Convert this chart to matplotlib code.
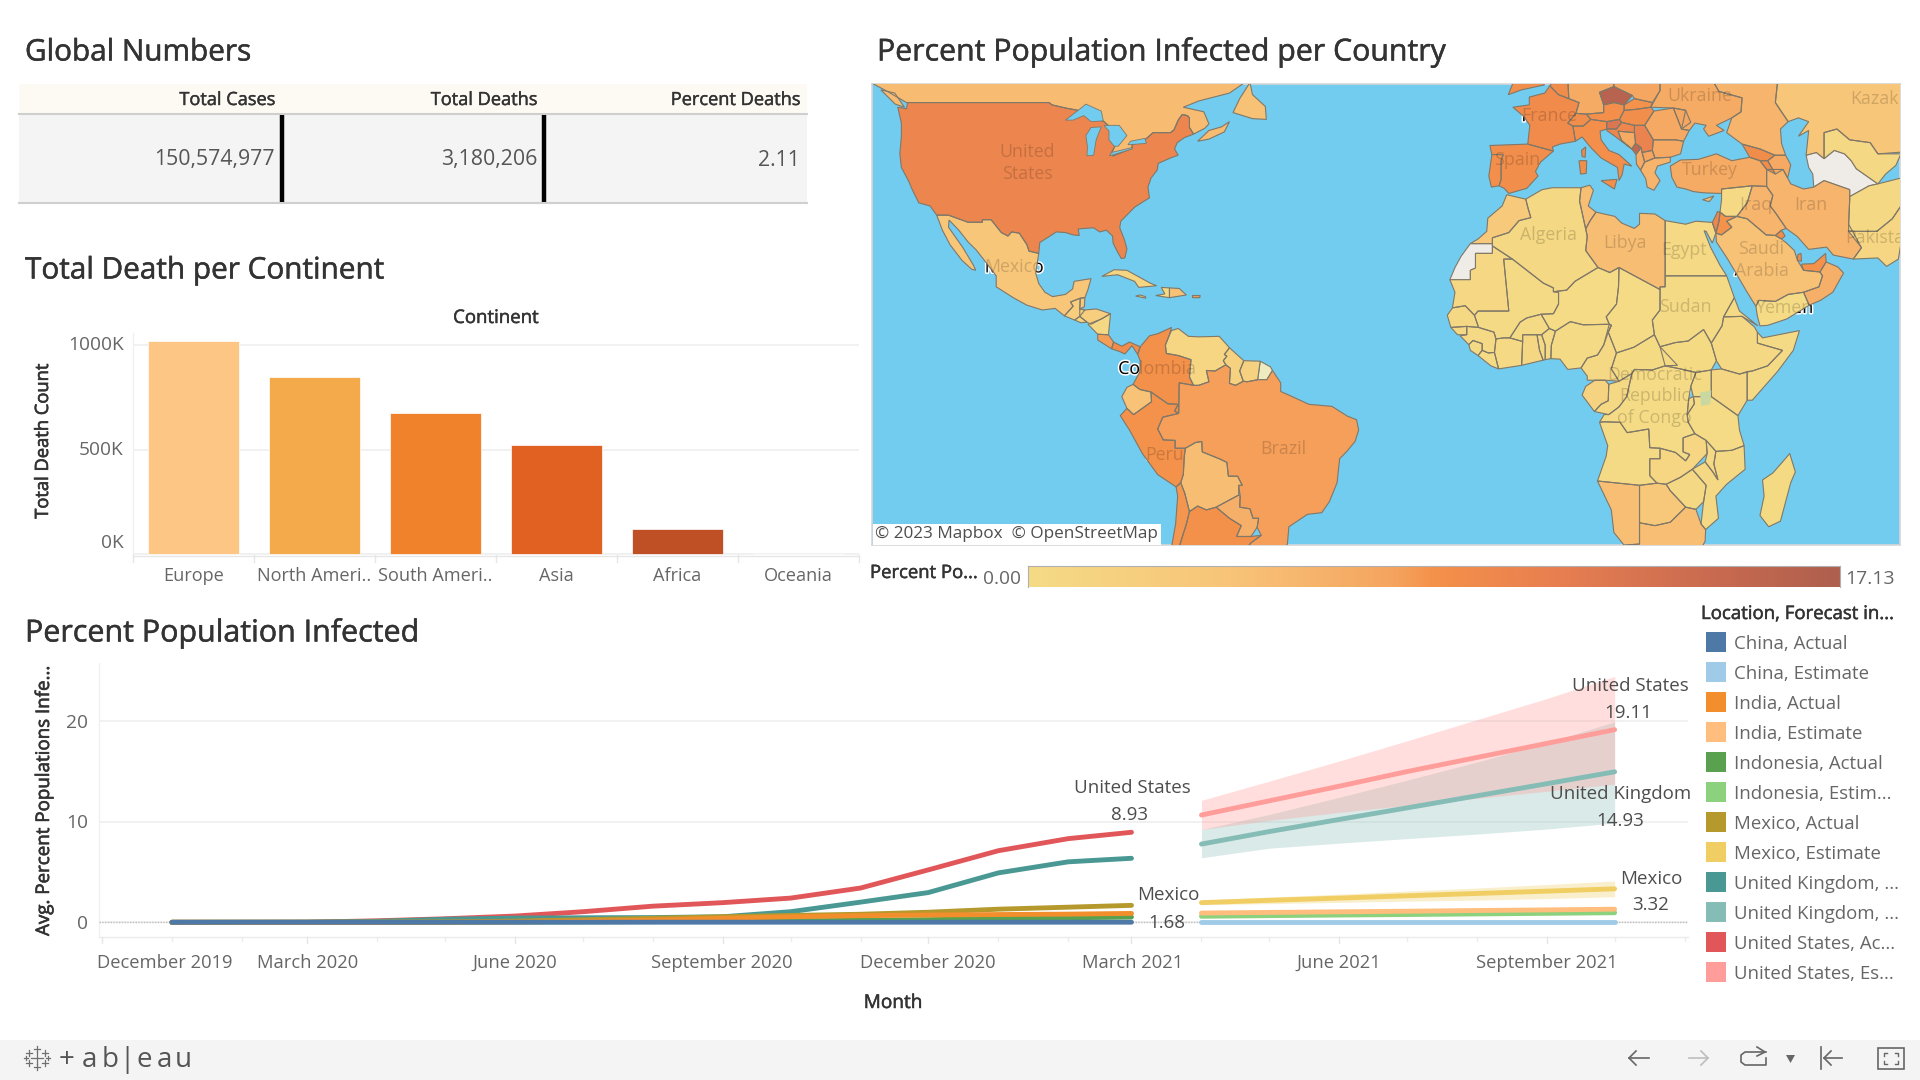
import numpy as np
import matplotlib
matplotlib.use("Agg")
import matplotlib.pyplot as plt
from matplotlib.colors import LinearSegmentedColormap, Normalize
from matplotlib.patches import Polygon, Rectangle
import matplotlib.patheffects as pe
import matplotlib.dates as mdates

plt.rcParams['font.family'] = ['Open Sans', 'DejaVu Sans']

W, H = 1920, 1080
# ---------------- table
table_headers = ["Total Cases", "Total Deaths", "Percent Deaths"]
table_values = ["150,574,977", "3,180,206", "2.11"]
# ---------------- bars
continents = ["Europe", "North Ameri..", "South Ameri..", "Asia", "Africa", "Oceania"]
death_counts = [1016750, 847942, 672415, 520269, 121784, 1046]
bar_colors = ["#FEC685", "#F4A94A", "#F0822C", "#E06122", "#BF4F24", "#9C3E1F"]
# ---------------- lines
months_actual = ["2020-01","2020-02","2020-03","2020-04","2020-05","2020-06","2020-07","2020-08",
                 "2020-09","2020-10","2020-11","2020-12","2021-01","2021-02","2021-03"]
months_est = ["2021-04","2021-05","2021-06","2021-07","2021-08","2021-09","2021-10"]
us_actual = [0,0,0.01,0.15,0.35,0.62,1.05,1.6,1.95,2.4,3.4,5.2,7.1,8.3,8.93]
uk_actual = [0,0,0.01,0.1,0.3,0.42,0.45,0.47,0.55,1.05,2.0,2.95,4.9,6.0,6.35]
mx_actual = [0,0,0,0.01,0.04,0.12,0.25,0.4,0.55,0.68,0.8,1.0,1.3,1.5,1.68]
in_actual = [0,0,0,0,0.01,0.04,0.1,0.22,0.4,0.55,0.66,0.72,0.77,0.81,0.88]
id_actual = [0,0,0,0,0.01,0.02,0.04,0.07,0.1,0.15,0.19,0.26,0.36,0.45,0.52]
cn_actual = [0,0.01,0.01,0.01,0.01,0.01,0.01,0.01,0.01,0.01,0.01,0.01,0.01,0.01,0.01]
us_est = [10.64,12.05,13.5,14.95,16.35,17.75,19.11]
uk_est = [7.76,9.0,10.2,11.35,12.55,13.75,14.93]
mx_est = [1.95,2.18,2.4,2.63,2.86,3.09,3.32]
in_est = [0.92,0.98,1.04,1.1,1.17,1.23,1.3]
id_est = [0.6,0.66,0.72,0.77,0.83,0.89,0.95]
cn_est = [0.01,0.01,0.01,0.01,0.01,0.01,0.01]
us_hi = [12.1,14.0,16.0,18.0,20.1,22.2,24.4]
us_lo = [9.2,10.1,10.9,11.6,12.3,13.0,13.7]
uk_hi = [9.2,10.7,12.4,14.1,15.9,17.8,19.9]
uk_lo = [6.4,7.35,7.85,8.3,8.75,9.25,9.85]
mx_hi = [2.2,2.5,2.8,3.1,3.4,3.75,4.1]
mx_lo = [1.75,1.85,1.97,2.1,2.2,2.35,2.54]
legend_labels = ["China, Actual","China, Estimate","India, Actual","India, Estimate","Indonesia, Actual",
                 "Indonesia, Estim...","Mexico, Actual","Mexico, Estimate","United Kingdom, ...",
                 "United Kingdom, ...","United States, Ac...","United States, Es..."]
legend_colors = ["#4E79A7","#A0CBE8","#F28E2B","#FFBE7D","#59A14F","#8CD17D","#B6992D","#F1CE63",
                 "#499894","#86BCB6","#E15759","#FF9D9A"]
# ---------------- map (lon, lat outlines)
USA=[(-124.7,48.4),(-123,48.2),(-122.8,49),(-95.2,49),(-94.6,48.7),(-92,48.3),(-89.6,48),(-84.5,46.5),(-82.5,45.3),(-82.4,43),(-83.1,42),(-82.7,41.7),(-79,42.8),(-79,43.3),(-76.5,44),(-74.9,45),(-71.5,45),(-70.8,45.4),(-70,46.7),(-69.2,47.45),(-68.2,47.3),(-67.8,47),(-67.8,45.7),(-67,44.8),(-68.8,44.3),(-70.2,43.6),(-70.7,42.7),(-70,41.8),(-71.5,41.4),(-73.9,40.6),(-74.1,39.6),(-75.3,38.4),(-75.9,37),(-75.6,35.3),(-77,34.6),(-78.5,33.8),(-79.9,32.6),(-81.2,31.5),(-81.4,30.4),(-80.5,28.4),(-80,26.8),(-80.4,25.2),(-81.1,25.1),(-81.8,26.2),(-82.7,27.8),(-82.8,29),(-84,30),(-85.3,29.7),(-86.5,30.4),(-88.2,30.3),(-89.5,30.2),(-89.3,29.1),(-90.5,29.2),(-92,29.6),(-93.8,29.7),(-95,29),(-97,27.9),(-97.2,26),(-99.1,26.4),(-99.5,27.5),(-101,29.5),(-102.5,29.7),(-103.2,29),(-104.5,29.6),(-106.5,31.75),(-108.2,31.75),(-108.2,31.33),(-111,31.33),(-114.8,32.5),(-117.1,32.5),(-118.4,34),(-120.6,34.5),(-122,36.8),(-122.5,37.8),(-124,40),(-124.3,42),(-124,44.5),(-124,46.3)]
CAN=[(-135,60),(-132,54),(-130,51.5),(-127,50.5),(-123,49),(-95.2,49),(-94.6,48.7),(-92,48.3),(-89.6,48),(-84.5,46.5),(-82.5,45.3),(-82.4,43),(-83.1,42),(-82.7,41.7),(-79,42.8),(-79,43.3),(-76.5,44),(-74.9,45),(-71.5,45),(-70.8,45.4),(-70,46.7),(-69.2,47.45),(-68.2,47.3),(-67.8,47),(-67.8,45.7),(-67,44.8),(-64.8,45.6),(-64,46.2),(-65,47.8),(-69,48.4),(-66,49.2),(-60,50.2),(-57,51.5),(-55,60)]
NSC=[(-66.2,43.8),(-64,45.3),(-61.5,45.8),(-60,46.5),(-61,45.1),(-64,44.1)]
NFL=[(-59.3,47.7),(-55.5,46.9),(-52.8,46.8),(-53,48.5),(-55.5,50),(-56,51.5),(-58,49.5)]
VAN=[(-128,50.6),(-125.3,50.2),(-123.4,48.4),(-125.2,48.8)]
MEX=[(-117.1,32.5),(-114.8,32.5),(-111,31.33),(-108.2,31.33),(-108.2,31.75),(-106.5,31.75),(-104.5,29.6),(-103.2,29),(-102.5,29.7),(-101,29.5),(-99.5,27.5),(-99.1,26.4),(-97.2,26),(-97.8,22.5),(-97.2,20.6),(-96,19),(-94.5,18.2),(-92,18.6),(-90.6,19.6),(-90.3,21),(-87,21.5),(-87.6,19.5),(-88.2,18),(-89.1,17.9),(-91,17.2),(-90.5,16.4),(-92.2,14.6),(-94,16),(-96.5,15.7),(-99.5,16.6),(-102,17.9),(-105.5,20),(-105.5,22),(-108,25),(-109.4,26.6),(-111,28),(-112.8,30),(-114.7,31.7),(-114.8,30.5),(-112,27),(-110,24),(-109.5,23),(-110.3,23.2),(-112.2,24.8),(-114.5,27.5),(-116,30)]
GTM=[(-92.2,14.6),(-90.5,16.4),(-91,17.2),(-89.1,17.9),(-89.2,15.9),(-88.2,15.7),(-89.2,14.5),(-90.2,13.8)]
BLZ=[(-89.1,17.9),(-88.2,18),(-88.3,16.3),(-89.2,15.9)]
HND=[(-89.2,15.9),(-88.2,15.7),(-86,15.9),(-83.2,15),(-85,14),(-87,13),(-87.8,13.4),(-89.2,14.5)]
SLV=[(-90.2,13.8),(-89.2,14.5),(-87.8,13.4),(-89,13.3)]
NIC=[(-87.6,13),(-85,14),(-83.2,15),(-83.6,11),(-85.7,11.1)]
CRI=[(-85.7,11.1),(-83.6,11),(-82.6,9.6),(-83,8.3),(-85.7,10)]
PAN=[(-83,8.3),(-82.6,9.6),(-81,8.8),(-79.5,9.6),(-77.4,8.7),(-77.9,7.2),(-79,8.9),(-80.4,7.3),(-81.5,7.8)]
CUB=[(-84.9,21.9),(-82.5,23.1),(-80,23),(-75.5,20.7),(-74.2,20.2),(-77.7,19.9),(-78.5,21),(-81.8,22.2)]
HTI=[(-74.4,18.4),(-71.7,18),(-71.7,19.8),(-73.3,19.9),(-72.6,18.7)]
DOM=[(-71.7,18),(-68.4,18.5),(-69.8,19.7),(-71.7,19.8)]
JAM=[(-78.3,18.3),(-76.3,17.9),(-76.4,18.2),(-77.5,18.5)]
PRI=[(-67.2,18.4),(-65.7,18.4),(-65.8,18),(-67.2,18)]
COL=[(-77.4,8.7),(-75.6,10.8),(-74,11.2),(-71.3,12.4),(-71.7,11),(-72.5,9),(-72.3,7.4),(-70,7),(-67.5,6.2),(-67.8,2.8),(-67,1.2),(-69.8,1.7),(-69.9,-4.2),(-70.7,-3.8),(-70,-2.5),(-72,-2.4),(-75.3,-0.1),(-77.5,0.4),(-78.8,1.4),(-77.5,3.8),(-77.4,6),(-77.9,7.2)]
VEN=[(-71.3,11.8),(-70,12.2),(-68,10.7),(-66,10.6),(-62,10.7),(-60.8,9.4),(-60,8.5),(-61,7.2),(-60.5,6.9),(-61.2,6),(-60.7,5.2),(-62.8,4),(-64.5,4.1),(-64,1.9),(-66,1.2),(-67,1.2),(-67.8,2.8),(-67.5,6.2),(-70,7),(-72.3,7.4),(-72.5,9),(-71.7,11)]
GUY=[(-60,8.5),(-57.2,6),(-58,4),(-57.3,2),(-58.8,1.2),(-60,1.6),(-59.8,4.5),(-60.7,5.2),(-61.2,6),(-60.5,6.9),(-61,7.2)]
SUR=[(-57.2,6),(-54,5.9),(-54.5,2.3),(-56.5,1.9),(-57.3,2),(-58,4)]
GUF=[(-54,5.9),(-52,4.8),(-51.6,4.1),(-52.7,2.3),(-54.5,2.3)]
BRA=[(-51.6,4.1),(-50,1.7),(-50,0),(-48.4,-0.7),(-44.5,-2.5),(-40,-2.9),(-37,-4.8),(-35.2,-5.5),(-34.8,-7.5),(-35.5,-9.7),(-37,-11.5),(-38.5,-13),(-39,-17.5),(-40.5,-21),(-42,-23),(-44.8,-23.3),(-48.4,-25.5),(-48.7,-28.5),(-50.5,-31),(-53.4,-33.7),(-53.5,-32.6),(-55.6,-31),(-57.6,-30.2),(-55.8,-28.3),(-53.8,-27),(-54.6,-25.6),(-54.3,-24),(-55.4,-24),(-56,-22.3),(-58,-22),(-57.9,-20),(-58.2,-18),(-57.5,-18),(-58.4,-16.3),(-60.2,-16.3),(-60.5,-13.7),(-62,-13),(-65.3,-11.7),(-65.4,-9.7),(-66.6,-9.9),(-68.6,-11),(-70.6,-11),(-70.6,-9.5),(-72.9,-9.4),(-74,-7.3),(-73,-5),(-70,-4.3),(-69.9,-4.2),(-69.8,1.7),(-67,1.2),(-66,1.2),(-64,1.9),(-64.5,4.1),(-62.8,4),(-60.7,5.2),(-59.8,4.5),(-60,1.6),(-58.8,1.2),(-57.3,2),(-56.5,1.9),(-54.5,2.3),(-52.7,2.3)]
ECU=[(-75.3,-0.1),(-77.5,0.4),(-78.8,1.4),(-80,0.8),(-81,-1),(-80,-3.3),(-78.7,-4.5),(-75.2,-2)]
PER=[(-75.3,-0.1),(-75.2,-2),(-78.7,-4.5),(-80,-3.3),(-81.3,-4.7),(-79.5,-7.5),(-77,-12),(-74,-16),(-70.4,-18.3),(-69.5,-17.5),(-69,-16),(-68.8,-12.5),(-68.6,-11),(-70.6,-11),(-70.6,-9.5),(-72.9,-9.4),(-74,-7.3),(-73,-5),(-70,-4.3),(-70.7,-3.8),(-70,-2.5),(-72,-2.4)]
BOL=[(-68.6,-11),(-66.6,-9.9),(-65.4,-9.7),(-65.3,-11.7),(-62,-13),(-60.5,-13.7),(-60.2,-16.3),(-58.4,-16.3),(-57.5,-18),(-58.2,-18),(-58.2,-19.8),(-62.6,-22),(-64.5,-22.5),(-66.2,-21.8),(-67.8,-22.8),(-68.7,-19.5),(-69.5,-17.5),(-69,-16),(-68.8,-12.5)]
PRY=[(-58.2,-19.8),(-57.9,-20),(-58,-22),(-56,-22.3),(-55.4,-24),(-54.3,-24),(-54.6,-25.6),(-55.8,-27.2),(-58.6,-27.2),(-57.7,-25.3),(-60,-24),(-62.6,-22)]
CHL=[(-70.4,-18.3),(-69.5,-17.5),(-68.7,-19.5),(-67.8,-22.8),(-68.4,-25),(-69.8,-29),(-70.2,-33),(-71.6,-33),(-71.5,-30),(-70.5,-25),(-70.1,-20)]
ARG=[(-66.2,-21.8),(-64.5,-22.5),(-62.6,-22),(-60,-24),(-57.7,-25.3),(-58.6,-27.2),(-55.8,-27.2),(-53.8,-27),(-55.8,-28.3),(-57.6,-30.2),(-58.2,-33),(-58.4,-34),(-70,-34),(-70.2,-33),(-69.8,-29),(-68.4,-25),(-67.8,-22.8)]
MAR=[(-5.9,35.8),(-2.2,35.1),(-1.7,33.5),(-1.2,32.1),(-3.5,31.6),(-5.5,29.6),(-8.7,28.7),(-8.7,27.7),(-13,27.7),(-11.5,28.5),(-9.8,29.8),(-9.6,32),(-6.8,34)]
ESH=[(-13,27.7),(-8.7,27.7),(-8.7,26),(-12,26),(-12,23.4),(-13,23),(-13,21.3),(-17,21.3),(-16,23.5),(-14.8,25.5)]
DZA=[(-2.2,35.1),(1,36.6),(3,36.9),(8.6,36.9),(8.3,34.8),(9.5,30.2),(9.8,29),(9.5,26.5),(11.9,23.5),(7.4,21),(5.8,19.4),(3.2,19.1),(3.2,19.8),(1.2,20.7),(-4.8,25),(-8.7,27.3),(-8.7,28.7),(-5.5,29.6),(-3.5,31.6),(-1.2,32.1),(-1.7,33.5)]
TUN=[(8.6,36.9),(10.3,37.3),(11,36.5),(10,34),(11.5,33),(10.3,31.5),(9.5,30.2),(8.3,34.8)]
LBY=[(11.5,33),(15.2,32.3),(16.5,31.2),(19,30.3),(20,31),(20,32.8),(23,32.7),(25,31.6),(25,29),(25,20),(24,20),(24,19.5),(16,23.5),(14.2,22.6),(11.9,23.5),(9.5,26.5),(9.8,29),(9.5,30.2),(10.3,31.5)]
EGY=[(25,31.6),(29,31),(31,31.5),(34.2,31.3),(34.9,29.5),(34.2,27.8),(33,29.8),(32.6,29.9),(33.9,27),(35.7,23.9),(37,22),(25,22)]
SDN=[(25,22),(37,22),(38.5,18),(36.4,14.4),(36.1,12.7),(34,9.4),(32.5,12),(29.5,9.8),(27,9.5),(24,8.7),(22.9,11),(22.5,13.8),(24,15.7),(24,19.5),(24,20),(25,20)]
SSD=[(24,8.7),(27,9.5),(29.5,9.8),(32.5,12),(34,9.4),(35,6),(34,4.2),(31,3.7),(28,4.4),(25,5)]
ERI=[(38.5,18),(39.5,15.5),(43.1,12.7),(40,14.5),(36.4,14.4)]
ETH=[(36.4,14.4),(40,14.5),(42.4,12.5),(43,11.5),(43,9.4),(47.9,8),(45,5),(42,4),(39.5,3.4),(36,4.4),(35,6),(34,9.4),(36.1,12.7)]
SOM=[(43,11.5),(44,10.4),(51.2,11.8),(50,8),(47,4),(42,-1.7),(41,-1.7),(41,3.9),(42,4),(45,5),(47.9,8),(43,9.4)]
KEN=[(34,4.2),(36,4.4),(39.5,3.4),(41,3.9),(41,-1.7),(39.2,-4.7),(34,-1),(34,1.3)]
UGA=[(31,3.7),(34,4.2),(34,1.3),(34,-1),(30.5,-1),(30,1)]
TZA=[(30.5,-1),(34,-1),(39.2,-4.7),(39.5,-7.5),(40.4,-10.5),(38,-11.4),(34.9,-11.6),(33,-9.5),(30.8,-8.2),(29.5,-6),(29.3,-4.5),(30.7,-2.4)]
RWA=[(29.6,-1.4),(30.5,-1),(30.7,-2.4),(29.3,-4.5)]
COD=[(12.2,-6),(13.1,-4.5),(14,-4.5),(16,-3),(17.5,-1),(18.5,3.5),(19,4.3),(22.5,4.2),(25,5),(28,4.4),(31,3.7),(30,1),(29.6,-1.4),(29.3,-4.5),(29.5,-6),(30.8,-8.2),(28.5,-9),(28.5,-11.7),(29.8,-12.2),(29,-13.4),(27,-11.8),(24,-11),(22,-10.9),(21.8,-7.3),(17.6,-8),(16.2,-6),(13,-5.9)]
COG=[(11.2,-3.9),(14,-4.5),(16,-3),(17.5,-1),(18.5,3.5),(16,2),(14,1.4),(13.9,-1.8),(12.5,-2.5)]
GAB=[(9.5,1),(11.3,2.2),(13.3,2.2),(14,1.4),(13.9,-1.8),(12.5,-2.5),(11.2,-3.9),(8.8,-0.7)]
CMR=[(8.6,4.6),(9.8,3),(9.8,2.2),(11.3,2.2),(13.3,2.2),(16,2),(14.5,4.4),(15.5,7.5),(13.9,11.5),(14.5,12.8),(14.1,13),(13,9),(11.8,7.1),(9.8,6.5)]
CAF=[(14.5,4.4),(16,2),(18.5,3.5),(19,4.3),(22.5,4.2),(25,5),(27.4,5.1),(24,8.7),(22.9,11),(18.9,8.6),(15.5,7.5)]
TCD=[(14.1,13),(13.5,14.4),(15.5,16.8),(15.9,20),(16,23.5),(24,19.5),(24,15.7),(22.5,13.8),(22.9,11),(18.9,8.6),(15.5,7.5),(13.9,11.5),(14.5,12.8)]
NER=[(5.8,19.4),(7.4,21),(11.9,23.5),(14.2,22.6),(16,23.5),(15.9,20),(15.5,16.8),(13.5,14.4),(14.1,13),(9,12.9),(6.5,13.5),(3.6,11.7),(2.4,12.2),(0.8,14.9),(3.2,15),(4.2,16.8),(4.2,19),(3.2,19.1)]
MLI=[(-4.8,25),(1.2,20.7),(3.2,19.8),(3.2,19.1),(4.2,19),(4.2,16.8),(3.2,15),(0.8,14.9),(-2,14.2),(-3.3,13.4),(-5.3,10.4),(-6.5,10.4),(-8,10.2),(-8.4,11.5),(-11.4,12.4),(-12.2,14.7),(-11.5,15.5),(-9.3,15.5),(-5.5,15.5),(-6.5,25)]
MRT=[(-17,21.3),(-13,21.3),(-13,23),(-12,23.4),(-12,26),(-8.7,26),(-8.7,27.3),(-4.8,25),(-6.5,25),(-5.5,15.5),(-9.3,15.5),(-11.5,15.5),(-12.2,14.7),(-14,16.5),(-16.5,16.1),(-16,19)]
SEN=[(-16.5,16.1),(-14,16.5),(-12.2,14.7),(-11.4,12.4),(-13.7,12.6),(-16.8,12.4),(-17.5,14.7)]
GNB=[(-16.8,12.4),(-13.7,12.6),(-13.7,11),(-15.5,11)]
GIN=[(-13.7,12.6),(-11.4,12.4),(-8.4,11.5),(-8,10.2),(-8.3,7.6),(-9.5,7.5),(-10.7,8),(-10.7,9.3),(-12.5,9.9),(-13.3,9.1),(-15,10.8),(-13.7,11)]
SLE=[(-13.3,9.1),(-12.5,9.9),(-10.7,9.3),(-10.7,8),(-11.5,7),(-13,8)]
LBR=[(-11.5,7),(-10.7,8),(-9.5,7.5),(-8.3,7.6),(-7.5,4.4),(-9,5)]
CIV=[(-7.5,4.4),(-8.3,7.6),(-8,10.2),(-6.5,10.4),(-5.3,10.4),(-2.8,9.7),(-3,5.1)]
GHA=[(-3,5.1),(-2.8,9.7),(-2.8,11),(0,11),(0.5,8),(1.2,6.1)]
BFA=[(-5.3,10.4),(-3.3,13.4),(-2,14.2),(0.8,14.9),(2.4,12.2),(0.9,11),(-2.8,11),(-2.8,9.7)]
TGO=[(0,11),(0.9,11),(1.6,9),(1.6,6.2),(1.2,6.1),(0.5,8)]
BEN=[(0.9,11),(2.4,12.2),(3.6,11.7),(2.8,9),(2.7,6.4),(1.6,6.2),(1.6,9)]
NGA=[(2.7,6.4),(2.8,9),(3.6,11.7),(6.5,13.5),(9,12.9),(14.1,13),(14.5,12.8),(13.9,11.5),(13,9),(11.8,7.1),(9.8,6.5),(8.6,4.6),(6,4.3),(4.5,6.3)]
AGO=[(12.2,-6),(13,-5.9),(16.2,-6),(17.6,-8),(21.8,-7.3),(22,-10.9),(24,-11),(24,-13),(22,-13),(22,-16.2),(23.4,-17.6),(20,-18),(13.9,-17.4),(11.8,-17.2),(13.5,-12.5),(13.8,-10.5),(12.9,-8)]
ZMB=[(22,-13),(24,-13),(24,-11),(27,-11.8),(29,-13.4),(29.8,-12.2),(28.5,-11.7),(28.5,-9),(30.8,-8.2),(33,-9.5),(33.2,-12),(30.3,-15),(28,-16.5),(25.2,-17.8),(23.4,-17.6),(22,-16.2)]
MWI=[(33,-9.5),(34.9,-11.6),(34.5,-14),(35.3,-17),(34.3,-15.5),(32.8,-13.6),(33.2,-12)]
MOZ=[(40.4,-10.5),(40.6,-15),(37,-17.8),(34.9,-20),(35.4,-24),(32.9,-26),(32,-25),(32.5,-21),(33,-18),(30.3,-15),(32.8,-13.6),(34.3,-15.5),(35.3,-17),(34.5,-14),(34.9,-11.6),(38,-11.4)]
ZWE=[(25.2,-17.8),(28,-16.5),(30.3,-15),(33,-18),(32.5,-21),(31,-22.4),(29,-22),(26,-19)]
BWA=[(20,-18),(23.4,-17.6),(25.2,-17.8),(26,-19),(29,-22),(26,-24.7),(23,-25.3),(20,-24.8),(20,-22)]
NAM=[(11.8,-17.2),(13.9,-17.4),(20,-18),(20,-22),(20,-28.5),(17,-28.7),(15,-26.5),(14.5,-22.5)]
ZAF=[(17,-28.7),(20,-28.5),(20,-24.8),(23,-25.3),(26,-24.7),(29,-22),(31,-22.4),(32,-25),(32.9,-26),(32.8,-28),(31,-31),(18,-31)]
MDG=[(49.3,-12),(50.4,-15.5),(49.5,-17.5),(47.5,-24.5),(45.2,-25.5),(43.5,-23.5),(44.3,-20),(44,-17),(46,-15.7),(48,-13.5)]
ISR=[(34.2,31.3),(34.9,32.5),(35.2,33.1),(35.7,33),(35.5,31.5),(34.9,29.5)]
JOR=[(35.5,31.5),(35.7,33),(36.8,32.3),(39,32.3),(37,31.5),(38,30.5),(36,29.2),(34.9,29.5)]
SYR=[(35.7,33),(36,35),(36,36.7),(42,37.2),(41,34.5),(39,32.3),(36.8,32.3)]
IRQ=[(39,32.3),(41,34.5),(42,37.2),(44.8,37.1),(46,35.7),(45.5,34),(46.6,32.8),(48.6,30.3),(47.7,30),(46.5,29.1),(44.7,29.2),(41,31.9)]
SAU=[(34.9,29.5),(36,29.2),(38,30.5),(37,31.5),(39,32.3),(41,31.9),(44.7,29.2),(46.5,29.1),(47.7,28.5),(48.8,27.7),(50.2,26.5),(50.8,24.8),(52,23),(55.2,22.7),(55.7,22),(55,20),(52,19),(49,18.6),(46.5,17.3),(43.3,17.5),(42.7,16.4),(41,19),(38.5,23),(37.2,25),(35,28)]
YEM=[(43.3,17.5),(46.5,17.3),(49,18.6),(52,19),(53.1,16.6),(48.7,14),(45,12.8),(43.5,12.7),(43,14.5),(42.7,16.4)]
OMN=[(52,19),(55,20),(55.7,22),(55.2,22.7),(56.4,24.5),(58.7,23.6),(59.8,22.5),(57.7,19),(55.3,17.5),(53.1,16.6)]
ARE=[(51.6,24.1),(52,23),(55.2,22.7),(56.4,24.5),(56.3,26),(54,24.2)]
KWT=[(46.5,29.1),(47.7,30),(48.4,29),(47.7,28.5)]
QAT=[(50.8,24.8),(51.6,24.6),(51.5,26),(50.9,25.8)]
IRN=[(44.8,39.7),(48,39.7),(48.9,38.4),(49.5,37.5),(52,36.7),(54,37),(56,38),(61,36.6),(61,35),(60.8,31),(63.3,27),(61.7,25),(57.8,25.7),(56.5,27.1),(53,26.7),(50.8,28.9),(48.6,30.3),(46.6,32.8),(45.5,34),(46,35.7),(44.8,37.1)]
TUR=[(26,40.2),(28,41.1),(31.5,41.2),(35,42),(38,41),(41.5,41.5),(43.5,41),(44.8,39.7),(44.8,37.1),(42,37.2),(36,36.7),(36,36),(32.5,36.1),(30.5,36.3),(29,36.7),(27.3,37),(26.3,38.5)]
GEO=[(40,43.4),(43.5,42.7),(46.4,41.8),(45,41),(43.5,41),(41.5,41.5)]
AZE=[(46.4,41.8),(48.5,41.8),(49.5,40.4),(48.9,38.4),(48,39.7),(46.5,39),(45,41)]
ARM=[(43.5,41),(45,41),(46.5,39),(44.8,39.7)]
TKM=[(52.5,41.8),(54.5,42.2),(56,41.3),(58,42.5),(60,42),(61.3,41),(62.3,39.8),(66.5,37.5),(64.8,37.2),(61,35.5),(61,36.6),(56,38),(54,37),(53.8,39),(53,40)]
UZB=[(56,45),(58.5,45.5),(61,44),(65,43.6),(66.5,42),(71,42),(70,40.3),(68,39),(66.5,37.5),(62.3,39.8),(61.3,41),(60,42),(58,42.5),(56,41.3)]
KAZ=[(46.5,49),(47,52),(72,52),(72,42.3),(66.5,42),(65,43.6),(61,44),(58.5,45.5),(56,45),(56,41.3),(54.5,42.2),(52.5,41.8),(53,45.3),(51,44.5),(53,46.5),(51,47),(49,46.5),(47.5,48)]
AFG=[(61,35.5),(64.8,37.2),(66.5,37.5),(71,38.4),(71.6,36.3),(71,34),(69.3,31.9),(66.3,29.8),(60.8,29.8),(60.8,31),(61,35)]
PAK=[(60.8,29.8),(66.3,29.8),(69.3,31.9),(71,34),(71.6,36.3),(75,37),(77,35.5),(75,32),(71,27.8),(70.5,25),(68.2,23.7),(66.5,25.2),(61.7,25),(63.3,27)]
RUS=[(40,43.4),(37,45),(38,47),(39.8,47.8),(40,49.6),(35.5,50.4),(34,52),(47,52),(46.5,49),(47.5,48),(49,46.5),(47.5,45.5),(47.7,43.5),(48.5,41.8),(46.4,41.8),(43.5,42.7)]
UKR=[(22.2,48.4),(24,50.5),(24,52),(34,52),(35.5,50.4),(40,49.6),(39.8,47.8),(38,47),(35,46),(36.5,45.3),(33.5,44.5),(32.5,45.5),(33,46),(30.8,46.3),(29.7,45.3),(28.2,45.5),(29,48),(26.6,48.3)]
ROU=[(22.8,47.9),(26.6,48.3),(28.2,45.5),(29.7,45.3),(28.6,43.8),(27,44),(22.7,44),(21,46)]
MDA=[(26.6,48.3),(29,48),(30,46.4),(28.2,45.5)]
BGR=[(22.7,44),(27,44),(28.6,43.8),(28,42),(26,41.5),(23,41.4),(22.5,42.5)]
GRC=[(20.2,39.6),(21,40.8),(23,41.4),(26,41.5),(26,40.8),(23.5,40.2),(23,39.2),(24,38),(22.8,36.5),(21.5,37),(21.2,38.3)]
SRB=[(19,46),(21,46),(22.7,44),(22.5,42.5),(20.5,42.2),(20.3,42.9),(19.2,43.5),(19.2,43.8),(19,45)]
BIH=[(15.8,45.2),(19,45),(19.2,43.8),(19.2,43.5),(18.5,42.7),(16.5,43.9)]
MNE=[(18.5,42.7),(19.2,43.5),(20.3,42.9),(19.3,41.9)]
ALB=[(19.3,41.9),(20.3,42.9),(20.5,42.2),(21,40.8),(20.2,39.6),(19.4,40.5)]
MKD=[(20.5,42.2),(22.5,42.5),(23,41.4),(21,40.8)]
HRV=[(13.6,45.3),(13.6,45.5),(15.5,45.5),(16.5,46.4),(19,46),(19,45),(15.8,45.2),(16.5,43.9),(18.5,42.7),(15,44.6)]
SVN=[(13.6,45.5),(13.6,46.5),(16.1,46.8),(16.5,46.4),(15.5,45.5)]
HUN=[(16.1,46.8),(17,48),(19,48.1),(22.2,48.4),(22.8,47.9),(21,46),(19,46),(16.5,46.4)]
AUT=[(9.6,47.5),(13,47.7),(13,48.7),(15,49),(17,48.7),(17,48),(16.1,46.8),(13.6,46.5),(10.5,46.8)]
SVK=[(17,48.7),(19,49.5),(22.5,49),(22.2,48.4),(19,48.1),(17,48)]
CZE=[(12.2,50.3),(15,51),(18.6,49.9),(17,48.7),(15,49),(13,48.7)]
POL=[(14.9,52),(24,52),(24,50.5),(22.5,49),(19,49.5),(18.6,49.9),(15,51)]
DEU=[(6,52),(14.9,52),(15,51),(12.2,50.3),(13,48.7),(13,47.7),(9.6,47.5),(7.6,47.6),(8.2,49),(6.2,49.5)]
BEL=[(2.5,51.1),(3.5,52),(6,52),(6.2,49.5),(4.2,50)]
CHE=[(6,46.3),(7.6,47.6),(9.6,47.5),(10.5,46.8),(9,45.9),(7,45.9)]
FRA=[(2.5,51.1),(4.2,50),(6.2,49.5),(8.2,49),(7.6,47.6),(6,46.3),(7,45.9),(7.5,43.8),(4.5,43.4),(3,43),(3.2,42.4),(-1.8,43.4),(-1.4,46),(-2.6,47.2),(-4.7,48.4),(-1.5,48.7),(-1.5,49.7),(1.5,50.2)]
ITA=[(7,45.9),(9,45.9),(10.5,46.8),(13.6,46.5),(13.6,45.5),(12.3,45.2),(12.5,44),(14,42.5),(16,41.9),(18.5,40.2),(17,40.5),(16.6,38.9),(16,38),(15.7,40),(12.5,41.4),(10.5,42.9),(8.8,44.4),(7.5,43.8)]
SIC=[(12.5,38),(15.6,38.2),(15.1,36.7)]
SAR=[(8.2,41),(9.7,41),(9.6,39.1),(8.5,39)]
COR=[(8.7,42.5),(9.5,43),(9.4,41.5),(8.8,41.6)]
ESP=[(-9.2,43.2),(-1.8,43.4),(3.2,42.4),(0.7,40.8),(-0.3,39.4),(0.2,38.7),(-2,36.8),(-5.5,36),(-6.4,36.8),(-7.4,37.2),(-7,38.2),(-7,41),(-6.6,41.9),(-8.8,41.9)]
PRT=[(-8.8,41.9),(-6.6,41.9),(-7,41),(-7,38.2),(-7.4,37.2),(-8.9,37),(-9.4,38.7)]
GBR=[(-5.6,50),(-3,50.6),(1.4,51.2),(1.4,52.5),(-4,52.5)]
CYP=[(32.3,35),(34.5,35.6),(33.6,34.7)]
SUP=[(-92,46.7),(-89.5,48),(-88,48.8),(-85,47.9),(-84.6,46.6),(-87,46.5),(-88.4,47.3),(-90.5,46.7)]
MIC=[(-87.8,41.7),(-86.5,41.8),(-86,44),(-85,45.8),(-87,45.7),(-88,44.6),(-87.7,43)]
HUR=[(-84.5,46),(-81.5,46),(-80,44.6),(-81.7,43.1),(-82.5,43.1),(-83.5,44),(-83.5,45.2)]
ERI_L=[(-83.4,41.7),(-79,42.7),(-79,42.9),(-83,42.2)]
ONT=[(-79.8,43.3),(-76.2,43.5),(-76.5,44.2),(-79.3,43.8)]
VIC=[(31.8,-0.2),(34,0.2),(33.8,-2.5),(32,-2.8)]
lakes = [SUP, MIC, HUR, ERI_L, ONT]

map_values = [
 (CAN,5.1),(NSC,5.1),(NFL,4.5),(VAN,5.1),(USA,10.1),(MEX,3.9),(GTM,2.5),(BLZ,3.5),(HND,2.5),(SLV,1.5),(NIC,0.6),(CRI,8.0),(PAN,9.3),(CUB,1.2),(HTI,0.3),(DOM,4.5),(JAM,3.0),(PRI,8.0),
 (COL,8.7),(VEN,0.9),(GUY,2.0),(SUR,2.0),(BRA,7.9),(ECU,4.4),(PER,8.6),(BOL,5.0),(PRY,6.5),(CHL,8.3),(ARG,8.7),
 (MAR,3.2),(DZA,0.6),(TUN,4.8),(LBY,5.0),(EGY,0.4),(SDN,0.2),(SSD,0.3),(ERI,0.2),(ETH,0.6),(SOM,0.2),(KEN,0.7),(UGA,0.3),(TZA,0.1),(RWA,0.5),
 (COD,0.1),(COG,0.5),(GAB,1.6),(CMR,0.6),(CAF,0.3),(TCD,0.1),(NER,0.1),(MLI,0.2),(MRT,0.8),(SEN,0.6),(GNB,0.5),(GIN,0.4),(SLE,0.2),(LBR,0.1),
 (CIV,0.4),(GHA,0.7),(BFA,0.2),(TGO,0.4),(BEN,0.2),(NGA,0.2),(AGO,0.2),(ZMB,0.9),(MWI,0.4),(MOZ,0.5),(ZWE,0.6),(BWA,3.5),(NAM,4.8),(ZAF,4.8),(MDG,0.3),
 (ISR,10.2),(JOR,8.6),(SYR,0.4),(IRQ,6.0),(SAU,4.5),(YEM,0.1),(OMN,6.5),(ARE,8.6),(KWT,9.0),(QAT,9.0),(IRN,6.0),(TUR,7.0),(GEO,9.2),(AZE,7.2),(ARM,9.2),
 (UZB,0.6),(KAZ,3.9),(AFG,0.6),(PAK,0.9),(RUS,6.0),(UKR,6.9),(ROU,7.2),(MDA,7.5),(BGR,7.2),(GRC,6.0),(SRB,10.6),(BIH,7.0),(MNE,15.0),(ALB,7.0),(MKD,7.6),
 (HRV,10.0),(SVN,12.6),(HUN,9.0),(AUT,8.8),(SVK,8.6),(CZE,16.2),(POL,7.5),(DEU,7.0),(BEL,9.2),(CHE,9.0),(FRA,9.4),(ITA,8.8),(SIC,8.8),(SAR,8.8),(COR,9.4),(ESP,8.9),(PRT,8.8),(GBR,9.0),(CYP,5.0),
]
no_data = [ESH, TKM]
no_data_pale = [GUF]

map_labels = ["United\nStates","Mexico","Colombia","Peru","Brazil","Ukraine","France","Spain","Turkey","Iraq","Iran","Algeria","Libya","Egypt","Saudi\nArabia","Sudan","Yemen","Democratic\nRepublic\nof Congo"]
map_label_lon = [-99.4,-102,-74,-72.6,-49.4,31.8,2.4,-3.9,33.7,42.7,53.5,2.2,17.1,28.6,43.8,29,48.3,22.9]
map_label_y = [44.6,24.2,4.4,-12.3,-11.2,57.7,53.7,45.2,43.3,36.3,36.3,30.6,29,27.7,25.7,16.5,16.3,-0.9]
left_labels = ["Kazakh","Pakista"]
left_label_lon = [61.2,60.2]
left_label_y = [57.0,30.0]

PCT_MAX = 17.13
cmap = LinearSegmentedColormap.from_list("orgold", [(0,"#F5DB85"),(0.25,"#F8C478"),(0.45,"#F5A45F"),(0.5,"#F4914A"),(0.65,"#E87F50"),(0.85,"#C86A50"),(1,"#AE5F4E")])

fig = plt.figure(figsize=(W/100, H/100), dpi=100, facecolor="white")
def rect(x0,y0,x1,y1):
    return [x0/W, 1-y1/H, (x1-x0)/W, (y1-y0)/H]

bg = fig.add_axes([0,0,1,1], zorder=0); bg.set_xlim(0,W); bg.set_ylim(H,0); bg.axis("off")
TITLE="#333333"; AX="#666666"; DARK="#333333"
def T(x,y,s,size=14,color=AX,ha="left",va="center",a=None,semi=0,**kw):
    t=(a or bg).text(x,y,s,fontsize=size,color=color,ha=ha,va=va,**kw)
    if semi:
        t.set_path_effects([pe.withStroke(linewidth=semi,foreground=color)])
    return t

# titles
T(25,53,"Global Numbers",21.4,TITLE,semi=0.35)
T(25,271,"Total Death per Continent",21.4,TITLE,semi=0.35)
T(25,634,"Percent Population Infected",21.9,TITLE,semi=0.35)
T(877,53,"Percent Population Infected per Country",21.8,TITLE,semi=0.35)

# table
bg.add_patch(Rectangle((19,84),788,30,fc="#FDF9F3",ec="none"))
bg.add_patch(Rectangle((19,114),788,88.5,fc="#F4F4F4",ec="none"))
bg.plot([19,807],[114,114],color="#cfcfcf",lw=1.5)
bg.plot([19,807],[202.5,202.5],color="#cfcfcf",lw=1.5)
for xx in (282,544):
    bg.plot([xx,xx],[115,202],color="black",lw=3.2,solid_capstyle="butt")
for xr,h,v in zip((275,537,800),table_headers,table_values):
    T(xr,100,h,13.1,DARK,ha="right",semi=0.3)
    T(xr,160,v,15.3,"#555555",ha="right")

# bars
Y0B=554.2; PX500=104.7
axb = fig.add_axes(rect(133,333,859,566), zorder=2)
axb.patch.set_alpha(0)
y_per_px = 500000/PX500
axb.set_xlim(0,6); axb.set_ylim(-(566-Y0B)*y_per_px,(Y0B-333)*y_per_px)
axb.bar(np.arange(6)+0.5, death_counts, width=0.76, color=bar_colors, edgecolor="white", linewidth=0.5)
axb.set_yticks([0,500000,1000000]); axb.set_yticklabels([])
axb.set_xticks(np.arange(7)); axb.set_xticklabels([])
axb.tick_params(axis="both",length=0)
for s in axb.spines.values(): s.set_visible(False)
axb.grid(axis="y",color="#f1f1f1",lw=1.4); axb.set_axisbelow(True)
for yy,l in zip((345,450,543),("1000K","500K","0K")):
    T(124,yy,l,13.8,AX,ha="right")
bg.plot([133,133],[333,555],color="#f0f0f0",lw=1)
bg.plot([133,859],[555.5,555.5],color="#e6e6e6",lw=1)
for i in range(7):
    xx=133+121*i
    bg.plot([xx,xx],[555,562],color="#e6e6e6",lw=1)
for i,c in enumerate(continents):
    T(133+121*i+60.5,581,c,13.1,AX,ha="center",va="baseline")
T(496,318,"Continent",13.4,DARK,ha="center",semi=0.35)
T(43,441,"Total Death Count",13.2,DARK,ha="center",rotation=90,semi=0.45)

# lines
axl = fig.add_axes(rect(99,663,1688,937), zorder=2)
axl.patch.set_alpha(0)
d0=np.datetime64("2019-12-01")
def num(ms): return mdates.date2num(np.array([np.datetime64(m+"-01") for m in ms]))
dn0=mdates.date2num(d0)
axl.set_xlim(dn0-1.3, dn0+702.5)
axl.set_ylim(-14.7/10.08*1.0, (922.3-663)/10.08)
xa=num(months_actual); xe=num(months_est)
axl.axhline(0,color="#bdbdbd",lw=1,ls=(0,(1,1)),zorder=1)
axl.fill_between(xe,uk_lo,uk_hi,color="#86BCB6",alpha=0.30,lw=0,zorder=2)
axl.fill_between(xe,us_lo,us_hi,color="#FF9D9A",alpha=0.33,lw=0,zorder=2)
axl.fill_between(xe,mx_lo,mx_hi,color="#F1CE63",alpha=0.32,lw=0,zorder=2)
LW=3.5
kw=dict(lw=LW,solid_capstyle="round",solid_joinstyle="round",zorder=3)
axl.plot(xe,cn_est,color="#A0CBE8",**kw)
axl.plot(xe,id_est,color="#8CD17D",**kw)
axl.plot(xe,in_est,color="#FFBE7D",**kw)
axl.plot(xe,mx_est,color="#F1CE63",**kw)
axl.plot(xe,uk_est,color="#86BCB6",**kw)
axl.plot(xe,us_est,color="#FF9D9A",**kw)
axl.plot(xa,us_actual,color="#E15759",**kw)
axl.plot(xa,uk_actual,color="#499894",**kw)
axl.plot(xa,mx_actual,color="#B6992D",**kw)
axl.plot(xa,id_actual,color="#59A14F",**kw)
axl.plot(xa,in_actual,color="#F28E2B",**kw)
axl.plot(xa,cn_actual,color="#4E79A7",**kw)
axl.set_yticks([0,10,20]); axl.set_yticklabels(["0","10","20"],fontsize=13.8,color=AX)
axl.tick_params(axis="y",length=0,pad=8)
for s in axl.spines.values(): s.set_visible(False)
axl.grid(axis="y",color="#f1f1f1",lw=1.4); axl.set_axisbelow(True)
major=["2019-12","2020-03","2020-06","2020-09","2020-12","2021-03","2021-06","2021-09"]
major_labels=["December 2019","March 2020","June 2020","September 2020","December 2020","March 2021","June 2021","September 2021"]
minor=["2020-01","2020-02","2020-04","2020-05","2020-07","2020-08","2020-10","2020-11","2021-01","2021-02","2021-04","2021-05","2021-07","2021-08","2021-10","2021-11"]
axl.set_xticks(num(major)); axl.set_xticklabels([])
axl.set_xticks(num(minor),minor=True)
axl.tick_params(axis="x",which="both",length=0)
bg.plot([99,1688],[937,937],color="#ececec",lw=1)
bg.plot([99,99],[663,937],color="#f0f0f0",lw=1)
for xm in num(major):
    xp=99+(xm-(dn0-1.3))/(703.8)*(1688-99)
    bg.plot([xp,xp],[937,943],color="#e6e6e6",lw=1)
for xm in num(minor):
    xp=99+(xm-(dn0-1.3))/(703.8)*(1688-99)
    bg.plot([xp,xp],[937,941],color="#ececec",lw=1)
tick_lab_x=[165,308,515,722,928,1133,1339,1547]
for xx,l in zip(tick_lab_x,major_labels):
    T(xx,968,l,13.2,AX,ha="center",va="baseline")
T(893,1003,"Month",13.7,DARK,ha="center",semi=0.35)
T(44,801,"Avg. Percent Populations Infe...",13.5,DARK,ha="center",rotation=90,semi=0.45)

# overlay text for data labels
ov = fig.add_axes([0,0,1,1], zorder=5); ov.set_xlim(0,W); ov.set_ylim(H,0); ov.axis("off"); ov.patch.set_alpha(0)
LBL="#4d4d4d"
for x,y,s in [(1132,786,"United States"),(1130,813,"8.93"),(1168,893,"Mexico"),(1167,921,"1.68"),
              (1630,684,"United States"),(1628,711,"19.11"),(1621,792,"United Kingdom"),(1620,819,"14.93"),
              (1651,877,"Mexico"),(1651,903,"3.32")]:
    T(x,y+7,s,13.5,LBL,ha="center",va="baseline",a=ov)

# legend
T(1701,614,"Location, Forecast in...",13.4,DARK,semi=0.35)
for i,(l,c) in enumerate(zip(legend_labels,legend_colors)):
    bg.add_patch(Rectangle((1706,632+30*i),20,20,fc=c,ec="none"))
    T(1734,649+30*i,l,13.4,AX,va="baseline")

# map
LON0=1537; PXD=5.126; Y0=391.5
def merc(lat):
    return np.degrees(np.log(np.tan(np.radians(45+np.asarray(lat)/2))))
axm = fig.add_axes(rect(872,84,1900,545), zorder=2)
axm.set_xlim((872-LON0)/PXD,(1900-LON0)/PXD); axm.set_ylim((Y0-545)/PXD,(Y0-84)/PXD)
axm.set_xticks([]); axm.set_yticks([])
axm.set_facecolor("#72CCF0")
for s in axm.spines.values(): s.set_color("#d6d6d6"); s.set_linewidth(1.2)
norm=Normalize(0,PCT_MAX)
def proj(poly):
    p=np.array(poly,float); return np.column_stack([p[:,0],merc(p[:,1])])
BORDER="#807868"
for poly in no_data:
    axm.add_patch(Polygon(proj(poly),closed=True,fc="#EFEBE6",ec=BORDER,lw=0.8,zorder=1))
for poly in no_data_pale:
    axm.add_patch(Polygon(proj(poly),closed=True,fc="#EEEBC0",ec=BORDER,lw=0.8,zorder=1))
halo=[pe.withStroke(linewidth=2.2,foreground="white")]
ML=12.8
# the labels lie under the land fills (seen only over water) and again, faint, above them
for s,lo,my in zip(map_labels,map_label_lon,map_label_y):
    axm.text(lo,my,s,fontsize=ML,color="black",ha="center",va="center",zorder=2,linespacing=1.25,path_effects=halo,clip_on=True)
    axm.text(lo,my,s,fontsize=ML,color="black",alpha=0.17,ha="center",va="center",zorder=6,linespacing=1.25,clip_on=True)
for s,lo,my in zip(left_labels,left_label_lon,left_label_y):
    axm.text(lo,my,s,fontsize=ML,color="black",alpha=0.17,ha="left",va="center",zorder=6,clip_on=True)
for poly,v in map_values:
    axm.add_patch(Polygon(proj(poly),closed=True,fc=cmap(norm(v)),ec="none",zorder=3))
    axm.add_patch(Polygon(proj(poly),closed=True,fc="none",ec=BORDER,lw=0.8,zorder=4))
for poly in lakes:
    axm.add_patch(Polygon(proj(poly),closed=True,fc="#72CCF0",ec=BORDER,lw=0.6,zorder=5))
axm.add_patch(Polygon(proj(VIC),closed=True,fc="#C8D8A0",ec="none",zorder=5))
ov.add_patch(Rectangle((873,524),288,21,fc="white",ec="none"))
T(875,534,"© 2023 Mapbox  © OpenStreetMap",12.3,"#4d4d4d",a=ov)

# colour legend
axc = fig.add_axes(rect(1028,566,1840,587), zorder=2)
grad=np.linspace(0,PCT_MAX,512).reshape(1,-1)
axc.imshow(grad,aspect="auto",cmap=cmap,norm=norm,extent=[0,PCT_MAX,0,1])
axc.set_xticks([]); axc.set_yticks([])
for k,s in axc.spines.items():
    s.set_visible(k in("top","left","right")); s.set_color("#b0b0b0"); s.set_linewidth(0.8)
T(870,573,"Percent Po...",13.3,DARK,semi=0.35)
T(1021,579,"0.00",13.8,AX,ha="right")
T(1845,579,"17.13",14,AX)

# footer
bg.add_patch(Rectangle((0,1040),W,39,fc="#F4F4F4",ec="none"))
bg.plot([0,W],[1079.5,1079.5],color="#cfcfcf",lw=1)
for s,xx in zip(["+","a","b","|","e","a","u"],[67,89,110,127,144,164,183]):
    T(xx,1060,s,20,"#555555",ha="center")
for dx,dy,r in [(0,0,6),(-8,-5,3),(8,-5,3),(-8,5,3),(8,5,3),(0,-9,3),(0,9,3),(-11,0,2),(11,0,2)]:
    cx,cy=37+dx,1058+dy
    bg.plot([cx-r,cx+r],[cy,cy],color="#707070",lw=0.9)
    bg.plot([cx,cx],[cy-r,cy+r],color="#707070",lw=0.9)
IC="#666666"
def arrow(x0,x1,y,c,lw=1.2):
    bg.plot([x0,x1],[y,y],color=c,lw=lw)
    s=1 if x1>x0 else -1
    bg.plot([x1-s*7,x1,x1-s*7],[y-7,y,y+7],color=c,lw=lw)
arrow(1649,1629,1058,IC)
arrow(1689,1708,1058,"#bdbdbd")
bg.plot([1766,1745,1741,1741,1745,1766,1766],[1052,1052,1055,1062,1065,1065,1058],color=IC,lw=1.2)
bg.plot([1757,1765,1757],[1047,1052,1056],color=IC,lw=1.2)
bg.add_patch(Polygon([[1786,1055],[1795,1055],[1790.5,1063]],fc=IC,ec="none"))
bg.plot([1821,1821],[1047,1069],color=IC,lw=1.2)
arrow(1842,1824,1058,IC)
bg.add_patch(Rectangle((1878,1048),26,21,fc="none",ec=IC,lw=1.2))
for (x,y,sx,sy) in [(1884,1053,1,1),(1898,1053,-1,1),(1884,1064,1,-1),(1898,1064,-1,-1)]:
    bg.plot([x,x,x+3*sx],[y+3*sy,y,y],color=IC,lw=1)

fig.savefig("out.png",dpi=100)
